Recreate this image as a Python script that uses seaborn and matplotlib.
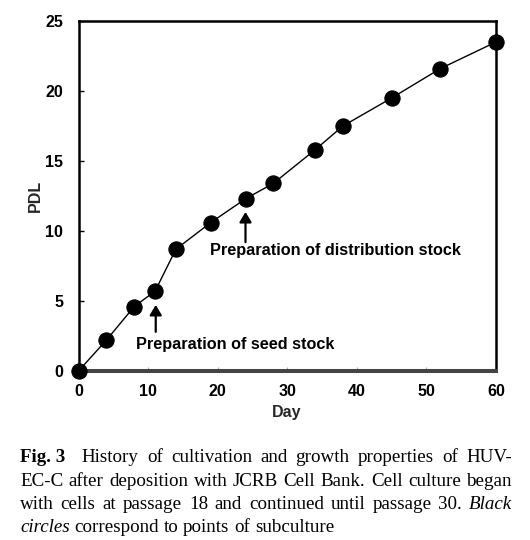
import numpy as np
import pandas as pd
import matplotlib
matplotlib.use("Agg")
import matplotlib.pyplot as plt
import seaborn as sns

# zile de subcultura si PDL
days = [0, 4, 8, 11, 14, 19, 24, 28, 34, 38, 45, 52, 60]
pdl = [0.0, 2.2, 4.6, 5.7, 8.7, 10.6, 12.3, 13.4, 15.8, 17.5, 19.5, 21.6, 23.5]
x_ticks = [0, 10, 20, 30, 40, 50, 60]
y_ticks = [0, 5, 10, 15, 20, 25]

# legenda figurii: (cuvant, greutate, stil); ultimul rand nu e justificat
caption_lines = [
    [("Fig. 3", "bold", "normal"), ("History", "normal", "normal"), ("of", "normal", "normal"),
     ("cultivation", "normal", "normal"), ("and", "normal", "normal"), ("growth", "normal", "normal"),
     ("properties", "normal", "normal"), ("of", "normal", "normal"), ("HUV-", "normal", "normal")],
    [(w, "normal", "normal") for w in
     "EC-C after deposition with JCRB Cell Bank. Cell culture began".split()],
    [(w, "normal", "normal") for w in
     "with cells at passage 18 and continued until passage 30.".split()] + [("Black", "normal", "italic")],
    [("circles", "normal", "italic")] + [(w, "normal", "normal") for w in
                                        "correspond to points of subculture".split()],
]
caption_baselines = [462.3, 486.0, 509.0, 531.5]

sns.set_style("ticks")
plt.rcParams["font.family"] = ["Liberation Sans", "DejaVu Sans"]
plt.rcParams["text.color"] = "black"
plt.rcParams["xtick.labelcolor"] = "black"
plt.rcParams["ytick.labelcolor"] = "black"

df = pd.DataFrame({"Day": days, "PDL": pdl})

W, H = 530, 540
fig = plt.figure(figsize=(W / 100, H / 100), dpi=100)
ax = fig.add_axes([78.5 / W, 1 - 371 / H, 417.5 / W, 350 / H])

sns.lineplot(data=df, x="Day", y="PDL", ax=ax, color="black", linewidth=1.0,
             marker="o", markersize=11, markeredgecolor="black", clip_on=False, zorder=5)

ax.set_xlim(0, 60)
ax.set_ylim(0, 25)
ax.set_xticks(x_ticks)
ax.set_yticks(y_ticks)
ax.tick_params(axis="x", direction="in", length=3, width=0.8, color="#aaaaaa", pad=9.5,
               labelsize=11.5)
ax.tick_params(axis="y", direction="in", length=3.5, width=1.0, color="black", pad=11,
               labelsize=11.5)
for lab in ax.get_xticklabels() + ax.get_yticklabels():
    lab.set_fontweight("bold")

for side in ["top", "right", "left"]:
    ax.spines[side].set_visible(True)
    ax.spines[side].set_linewidth(1.8)
    ax.spines[side].set_color("black")
ax.spines["bottom"].set_linewidth(2.9)
ax.spines["bottom"].set_color("#444444")

ax.set_xlabel("Day", fontsize=11.5, fontweight="bold")
ax.set_ylabel("PDL", fontsize=11.5, fontweight="bold")
ax.xaxis.set_label_coords((287 - 78.5) / 417.5, (371 - 413) / 350)
ax.yaxis.set_label_coords((35 - 78.5) / 417.5, 0.5)
ax.xaxis.label.set_va("center")
ax.yaxis.label.set_va("center")

arrow = dict(arrowstyle="-|>,head_width=0.36,head_length=0.6", color="black", lw=1.6,
             shrinkA=0, shrinkB=0)
ax.annotate("", xy=(11.1, 4.72), xytext=(11.1, 2.8), arrowprops=arrow)
ax.annotate("", xy=(24, 11.36), xytext=(24, 9.2), arrowprops=arrow)
ax.text(8.26, 1.86, "Preparation of seed stock", fontsize=11.7, fontweight="bold",
        ha="left", va="center")
ax.text(18.86, 8.6, "Preparation of distribution stock", fontsize=11.7, fontweight="bold",
        ha="left", va="center")

# legenda figurii, justificata cuvant cu cuvant
renderer = fig.canvas.get_renderer()
serif = ["Liberation Serif", "DejaVu Serif"]
cap_size = 13.7
left_px, right_px = 20, 512


def word_width(word, weight, style):
    t = fig.text(0, 0, word, fontsize=cap_size, fontweight=weight, fontstyle=style, family=serif)
    w = t.get_window_extent(renderer).width
    t.remove()
    return w


space_w = word_width("a b", "normal", "normal") - word_width("ab", "normal", "normal")
for i, (words, base) in enumerate(zip(caption_lines, caption_baselines)):
    widths = [word_width(*wd) for wd in words]
    # spatiul dupa "Fig. 3" conteaza dublu
    gap_weights = [2.0 if words[k][0] == "Fig. 3" else 1.0 for k in range(len(words) - 1)]
    if i < len(caption_lines) - 1:
        unit = (right_px - left_px - sum(widths)) / sum(gap_weights)
    else:
        unit = space_w
    x = left_px
    for k, (wd, w) in enumerate(zip(words, widths)):
        fig.text(x / W, 1 - base / H, wd[0], fontsize=cap_size, fontweight=wd[1],
                 fontstyle=wd[2], family=serif, ha="left", va="baseline")
        if k < len(gap_weights):
            x += w + unit * gap_weights[k]

fig.savefig("out.png", dpi=100)
